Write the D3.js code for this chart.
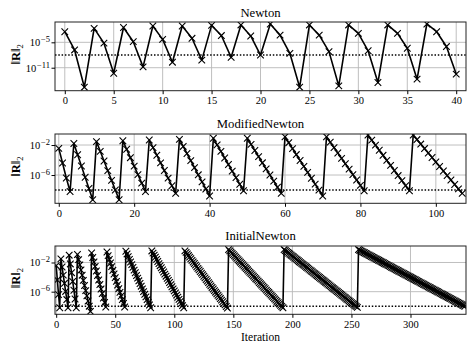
<!DOCTYPE html>
<html><head><meta charset="utf-8">
<script src="https://cdn.jsdelivr.net/npm/d3@7"></script>
<style>
body{margin:0;background:#fff}
</style>
</head><body>
<svg id="c" width="474" height="352"></svg>
<script>
// ---- data (log10 of residual norm, one entry per iteration) ----
const titles = ["Newton", "ModifiedNewton", "InitialNewton"];

const newtonLog = [-2.5, -6.8, -15.6, -1.7, -5.2, -12.3, -1.5, -4.85, -10.8, -1.15, -4.3, -9.7,
  -1.15, -4.05, -9.2, -1.0, -3.4, -8.55, -0.9, -3.5, -8.0, -0.67, -3.3, -7.6, -15.6, -0.9, -3.3,
  -7.2, -15.3, -0.9, -2.9, -7.0, -14.5, -0.9, -2.9, -6.4, -13.7, -0.67, -2.5, -6.0, -12.5];

const modifiedLog = [
  -2.44, -4.4, -6.4, -8.2,
  -1.8, -3.3, -4.8, -6.3, -7.8, -9.3,
  -1.55, -2.84, -4.13, -5.42, -6.71, -8.0, -9.3,
  -1.43, -2.56, -3.69, -4.82, -5.95, -7.08, -8.2,
  -1.33, -2.35, -3.36, -4.38, -5.4, -6.41, -7.43, -8.45,
  -1.24, -2.19, -3.13, -4.08, -5.02, -5.97, -6.91, -7.86, -8.8,
  -1.1, -1.98, -2.85, -3.73, -4.6, -5.48, -6.35, -7.23, -8.1,
  -1.1, -1.92, -2.73, -3.55, -4.37, -5.18, -6.0, -6.82, -7.63, -8.45,
  -0.9, -1.69, -2.48, -3.27, -4.06, -4.85, -5.64, -6.43, -7.22, -8.01, -8.8,
  -0.9, -1.62, -2.34, -3.06, -3.78, -4.5, -5.22, -5.94, -6.66, -7.38, -8.1,
  -0.67, -1.35, -2.02, -2.7, -3.37, -4.05, -4.72, -5.4, -6.07, -6.75, -7.42, -8.1,
  -0.67, -1.27, -1.87, -2.47, -3.06, -3.66, -4.26, -4.86, -5.46, -6.06, -6.66, -7.26, -7.85, -8.45];

const initialLog = [
  -2.44, -4.4, -6.4, -8.2,
  -1.5, -2.62, -3.73, -4.85, -5.97, -7.08, -8.2,
  -1.0, -2.2, -3.4, -4.6, -5.8, -7.0, -8.2,
  -0.9, -1.61, -2.32, -3.03, -3.74, -4.45, -5.15, -5.86, -6.57, -7.28, -7.99, -8.7,
  -0.7, -1.32, -1.93, -2.55, -3.17, -3.78, -4.4, -5.02, -5.63, -6.25, -6.87, -7.48, -8.1,
  -0.56, -1.06, -1.57, -2.07, -2.57, -3.07, -3.58, -4.08, -4.58, -5.08, -5.59, -6.09, -6.59, -7.09, -7.6, -8.1,
  -0.46, -0.83, -1.2, -1.57, -1.93, -2.3, -2.67, -3.04, -3.41, -3.78, -4.15, -4.51, -4.88, -5.25, -5.62, -5.99,
  -6.36, -6.72, -7.09, -7.46, -7.83, -8.2,
  -0.42, -0.71, -1.0, -1.28, -1.57, -1.86, -2.15, -2.44, -2.72, -3.01, -3.3, -3.59, -3.88, -4.17, -4.45, -4.74,
  -5.03, -5.32, -5.61, -5.89, -6.18, -6.47, -6.76, -7.05, -7.33, -7.62, -7.91, -8.2,
  -0.4, -0.62, -0.84, -1.05, -1.27, -1.49, -1.71, -1.93, -2.14, -2.36, -2.58, -2.8, -3.02, -3.23, -3.45, -3.67,
  -3.89, -4.11, -4.33, -4.54, -4.76, -4.98, -5.2, -5.42, -5.63, -5.85, -6.07, -6.29, -6.51, -6.72, -6.94, -7.16,
  -7.38, -7.6, -7.81, -8.03, -8.25,
  -0.23, -0.40, -0.58, -0.75, -0.92, -1.10, -1.27, -1.44, -1.62, -1.79, -1.96, -2.14, -2.31, -2.48, -2.66, -2.83,
  -3.00, -3.18, -3.35, -3.52, -3.70, -3.87, -4.04, -4.22, -4.39, -4.56, -4.74, -4.91, -5.08, -5.26, -5.43, -5.60,
  -5.78, -5.95, -6.12, -6.30, -6.47, -6.64, -6.82, -6.99, -7.16, -7.34, -7.51, -7.68, -7.86, -8.03, -8.20,
  -0.23, -0.36, -0.49, -0.61, -0.74, -0.87, -1.00, -1.12, -1.25, -1.38, -1.51, -1.63, -1.76, -1.89, -2.02, -2.15,
  -2.27, -2.40, -2.53, -2.66, -2.78, -2.91, -3.04, -3.17, -3.29, -3.42, -3.55, -3.68, -3.81, -3.93, -4.06, -4.19,
  -4.32, -4.44, -4.57, -4.70, -4.83, -4.95, -5.08, -5.21, -5.34, -5.47, -5.59, -5.72, -5.85, -5.98, -6.10, -6.23,
  -6.36, -6.49, -6.61, -6.74, -6.87, -7.00, -7.13, -7.25, -7.38, -7.51, -7.64, -7.76, -7.89, -8.02, -8.15,
  -0.23, -0.32, -0.40, -0.49, -0.58, -0.66, -0.75, -0.83, -0.92, -1.01, -1.09, -1.18, -1.27, -1.35, -1.44, -1.53,
  -1.61, -1.70, -1.78, -1.87, -1.96, -2.04, -2.13, -2.22, -2.30, -2.39, -2.47, -2.56, -2.65, -2.73, -2.82, -2.91,
  -2.99, -3.08, -3.17, -3.25, -3.34, -3.42, -3.51, -3.60, -3.68, -3.77, -3.86, -3.94, -4.03, -4.11, -4.20, -4.29,
  -4.37, -4.46, -4.55, -4.63, -4.72, -4.81, -4.89, -4.98, -5.06, -5.15, -5.24, -5.32, -5.41, -5.50, -5.58, -5.67,
  -5.75, -5.84, -5.93, -6.01, -6.10, -6.19, -6.27, -6.36, -6.45, -6.53, -6.62, -6.70, -6.79, -6.88, -6.96, -7.05,
  -7.14, -7.22, -7.31, -7.40, -7.48, -7.57, -7.65, -7.74, -7.83, -7.91, -8.00];

const tolerance = 1e-8;
const xTicks = [[0, 5, 10, 15, 20, 25, 30, 35, 40], [0, 20, 40, 60, 80, 100], [0, 50, 100, 150, 200, 250, 300]];
const yTickExps = [[-5, -11], [-2, -6], [-2, -6]];
const xLabel = "Iteration";

// ---- layout ----
const FONT = "Liberation Serif";
const L = 55, R = 466;
const panels = [
  {data: newtonLog, top: 22, bottom: 90.7, ydom: [-16.43, -0.2], titleY: 16.5},
  {data: modifiedLog, top: 134, bottom: 203.3, ydom: [-9.77, -0.53], titleY: 128.3},
  {data: initialLog, top: 246, bottom: 314.3, ydom: [-9.1, 0.26], titleY: 240}
];

const svg = d3.select("#c").style("font-family", FONT);
const defs = svg.append("defs");

panels.forEach((p, k) => {
  const n = p.data.length;
  const vals = p.data.map(v => Math.pow(10, v));
  const x = d3.scaleLinear().domain([-1, n]).range([L, R]);
  const y = d3.scaleLog().domain([Math.pow(10, p.ydom[0]), Math.pow(10, p.ydom[1])]).range([p.bottom, p.top]);
  const g = svg.append("g");

  defs.append("clipPath").attr("id", "clip" + k).append("rect")
    .attr("x", L).attr("y", p.top).attr("width", R - L).attr("height", p.bottom - p.top);

  g.append("g").selectAll("line").data(xTicks[k]).join("line")
    .attr("x1", d => x(d)).attr("x2", d => x(d)).attr("y1", p.top).attr("y2", p.bottom)
    .attr("stroke", "#b8b8b8").attr("stroke-width", 0.9);
  g.append("g").selectAll("line").data(yTickExps[k]).join("line")
    .attr("x1", L).attr("x2", R).attr("y1", d => y(Math.pow(10, d))).attr("y2", d => y(Math.pow(10, d)))
    .attr("stroke", "#b8b8b8").attr("stroke-width", 0.9);

  const pg = g.append("g").attr("clip-path", `url(#clip${k})`);
  pg.append("line").attr("x1", L).attr("x2", R).attr("y1", y(tolerance)).attr("y2", y(tolerance))
    .attr("stroke", "#000").attr("stroke-width", 1.5).attr("stroke-dasharray", "1.5,1.8");
  const line = d3.line().x((d, i) => x(i)).y(d => y(d));
  pg.append("path").datum(vals).attr("d", line).attr("fill", "none")
    .attr("stroke", "#000").attr("stroke-width", 1.6).attr("stroke-linejoin", "round");
  pg.append("g").selectAll("path").data(vals).join("path")
    .attr("transform", (d, i) => `translate(${x(i)},${y(d)})`)
    .attr("d", "M-3.3,-3.3L3.3,3.3M-3.3,3.3L3.3,-3.3").attr("stroke", "#000").attr("stroke-width", 1.1).attr("fill", "none");

  g.append("rect").attr("x", L).attr("y", p.top).attr("width", R - L).attr("height", p.bottom - p.top)
    .attr("fill", "none").attr("stroke", "#222").attr("stroke-width", 1);

  const xa = g.append("g").attr("transform", `translate(0,${p.bottom})`)
    .call(d3.axisBottom(x).tickValues(xTicks[k]).tickSize(3.5).tickPadding(2.5).tickFormat(d3.format("d")));
  xa.select(".domain").remove();
  xa.attr("font-family", null).attr("font-size", 10.5);

  const ya = g.append("g").attr("transform", `translate(${L},0)`)
    .call(d3.axisLeft(y).tickValues(yTickExps[k].map(e => Math.pow(10, e))).tickSize(3.5).tickFormat(() => ""));
  ya.select(".domain").remove();
  ya.attr("font-family", null);
  ya.selectAll(".tick text").remove();
  ya.selectAll(".tick").each(function (d) {
    const e = Math.round(Math.log10(d));
    const t = d3.select(this).append("text").attr("x", -5).attr("y", 3.5).attr("fill", "#000")
      .attr("text-anchor", "end").attr("font-size", 10.5);
    t.append("tspan").text("10");
    t.append("tspan").attr("dx", 0.8).attr("dy", -4.2).attr("font-size", 8.5).text("\u2212" + Math.abs(e));
  });

  svg.append("text").attr("x", (L + R) / 2).attr("y", p.titleY).attr("text-anchor", "middle")
    .attr("font-size", 12.7).text(titles[k]);

  const yl = svg.append("text")
    .attr("transform", `translate(20,${(p.top + p.bottom) / 2 - 2}) rotate(-90)`)
    .attr("text-anchor", "middle").attr("font-size", 12.5);
  yl.append("tspan").text("\u2016");
  yl.append("tspan").attr("font-weight", "bold").text("R");
  yl.append("tspan").text("\u2016");
  yl.append("tspan").attr("dy", 3).attr("font-size", 8.5).text("2");
});

svg.append("text").attr("x", (L + R) / 2).attr("y", 341).attr("text-anchor", "middle")
  .attr("font-size", 11.5).text(xLabel);
</script>
</body></html>
